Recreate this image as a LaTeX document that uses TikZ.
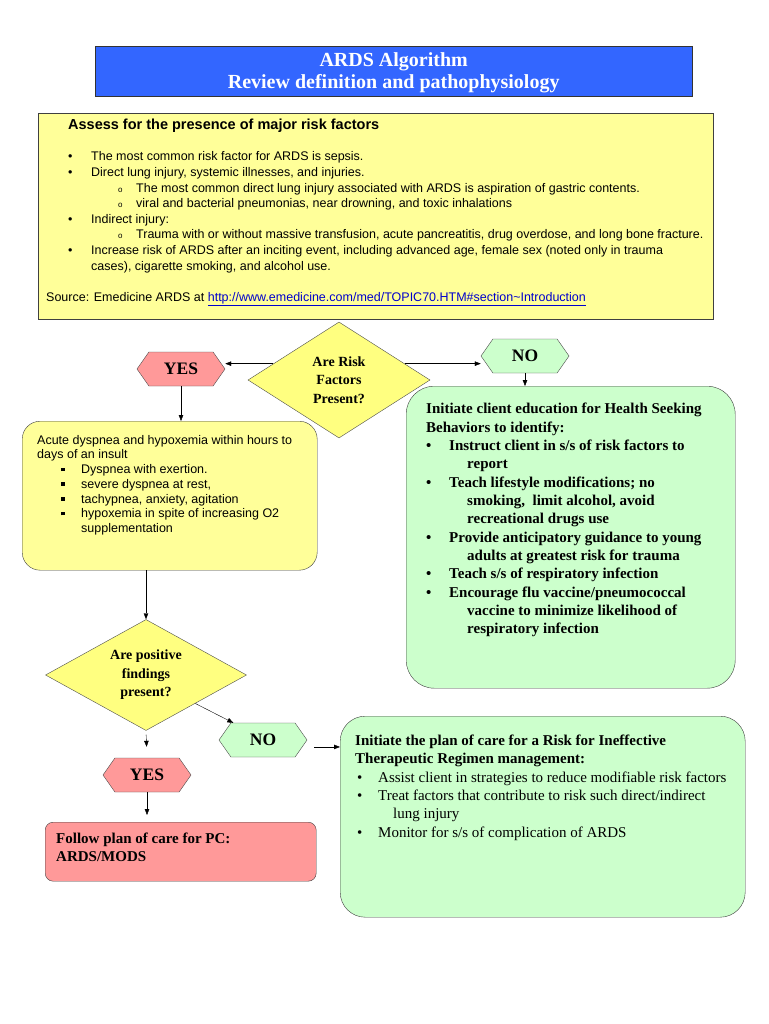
\documentclass[tikz,border=0pt]{standalone}
\usepackage{fontspec}
\setmainfont{Liberation Serif}
\setsansfont{Liberation Sans}
\usetikzlibrary{arrows.meta,shapes.geometric,shapes.symbols}

\definecolor{titleblue}{RGB}{51,102,255}
\definecolor{paleyellow}{RGB}{255,255,153}
\definecolor{askyellow}{RGB}{255,255,128}
\definecolor{yespink}{RGB}{255,153,153}
\definecolor{nogreen}{RGB}{204,255,204}
\definecolor{linkblue}{RGB}{0,0,204}

\newcommand{\bul}[1]{\makebox[#1][l]{\textbullet}}
\newcommand{\circitem}{\makebox[18pt][l]{\fontsize{8}{8}\selectfont o}}
\newcommand{\sqitem}{\makebox[20pt][l]{\rule[2.5pt]{3.5pt}{3.5pt}}}

\begin{document}
\begin{tikzpicture}
        [
            x = 1pt, y = -1pt,
            > = {Triangle[length=6pt,width=4.5pt]},
            panel/.style = {draw=black!75, anchor=north west, inner sep=0pt},
            decision/.style = {
                diamond, aspect=1.6, draw=black!70, fill=askyellow, inner sep=0pt,
                align=center, font=\fontsize{14}{18.5}\selectfont\bfseries},
            answer/.style = {
                signal, signal to=west and east, signal pointer angle=110,
                draw=black!70, minimum width=88pt, minimum height=34pt,
                inner sep=0pt, font=\fontsize{17.5}{17.5}\selectfont\bfseries}
        ]
        \useasboundingbox [fill=white] (0,0) rectangle (768,1024);

        % title banner
        \node [panel, draw=black!80, fill=titleblue, text=white] (title) at (95,46)
            {\parbox[c][50pt][t]{597pt}{\centering\fontsize{20}{22}\selectfont\bfseries
            \vspace*{6pt}ARDS Algorithm\\Review definition and pathophysiology}};

        % risk factors
        \node [panel, fill=paleyellow, inner xsep=8pt, inner ysep=6pt] (risk) at (38,113)
            {\parbox[c][194pt][t]{659pt}{\sffamily\fontsize{12.5}{15.6}\selectfont\raggedright
            \hspace*{22pt}{\fontsize{14.5}{15.6}\selectfont\bfseries Assess for the presence of major risk factors}\\[15.6pt]
            \hspace*{22pt}\bul{23pt}The most common risk factor for ARDS is sepsis.\\
            \hspace*{22pt}\bul{23pt}Direct lung injury, systemic illnesses, and injuries.\\
            \hspace*{72pt}\circitem The most common direct lung injury associated with ARDS is aspiration of gastric contents.\\
            \hspace*{72pt}\circitem viral and bacterial pneumonias, near drowning, and toxic inhalations\\
            \hspace*{22pt}\bul{23pt}Indirect injury:\\
            \hspace*{72pt}\circitem Trauma with or without massive transfusion, acute pancreatitis, drug overdose, and long bone fracture.\\
            \hspace*{22pt}\bul{23pt}Increase risk of ARDS after an inciting event, including advanced age, female sex (noted only in trauma\\
            \hspace*{45pt}cases), cigarette smoking, and alcohol use.\\[15.6pt]
            Source: Emedicine ARDS at \textcolor{linkblue}{\underline{http://www.emedicine.com/med/TOPIC70.HTM\#section\textasciitilde Introduction}}}};

        % first decision
        \node [decision, minimum width=182pt, minimum height=116pt] (dia1) at (339,380)
            {Are Risk\\Factors\\Present?};
        \node [answer, fill=yespink] (yes1) at (181,369) {YES};
        \node [answer, fill=nogreen] (no1) at (525,356) {NO};

        % education
        \node [panel, fill=nogreen, rounded corners=28pt, inner xsep=20pt, inner ysep=17pt] (edu) at (406,386)
            {\parbox[c][268pt][t]{289pt}{\fontsize{15}{18.35}\selectfont\bfseries\raggedright
            Initiate client education for Health Seeking\\
            Behaviors to identify:\\
            \bul{23pt}Instruct client in s/s of risk factors to\\
            \hspace*{41pt}report\\
            \bul{23pt}Teach lifestyle modifications; no\\
            \hspace*{41pt}smoking,\ \ limit alcohol, avoid\\
            \hspace*{41pt}recreational drugs use\\
            \bul{23pt}Provide anticipatory guidance to young\\
            \hspace*{41pt}adults at greatest risk for trauma\\
            \bul{23pt}Teach s/s of respiratory infection\\
            \bul{23pt}Encourage flu vaccine/pneumococcal\\
            \hspace*{41pt}vaccine to minimize likelihood of\\
            \hspace*{41pt}respiratory infection}};

        % signs and symptoms
        \node [panel, fill=paleyellow, rounded corners=18pt, inner xsep=15pt, inner ysep=14pt] (signs) at (22,421)
            {\parbox[c][121pt][t]{265pt}{\sffamily\fontsize{12.5}{14.7}\selectfont\raggedright
            Acute dyspnea and hypoxemia within hours to\\
            days of an insult\\
            \hspace*{24pt}\sqitem Dyspnea with exertion.\\
            \hspace*{24pt}\sqitem severe dyspnea at rest,\\
            \hspace*{24pt}\sqitem tachypnea, anxiety, agitation\\
            \hspace*{24pt}\sqitem hypoxemia in spite of increasing O2\\
            \hspace*{44pt}supplementation}};

        % second decision
        \node [decision, minimum width=201pt, minimum height=111pt] (dia2) at (146,675)
            {Are positive\\findings\\present?};
        \node [answer, fill=nogreen] (no2) at (263,740) {NO};
        \node [answer, fill=yespink] (yes2) at (147,775) {YES};

        % plan of care
        \node [panel, fill=yespink, rounded corners=8pt, inner xsep=11pt, inner ysep=10.5pt] (care) at (45,822)
            {\parbox[c][38pt][t]{249pt}{\fontsize{15}{18}\selectfont\bfseries
            Follow plan of care for PC:\\ARDS/MODS}};

        % regimen management
        \node [panel, fill=nogreen, rounded corners=25pt, inner xsep=15pt, inner ysep=18.5pt] (regimen) at (340,716)
            {\parbox[c][164pt][t]{375pt}{\fontsize{15}{18.4}\selectfont\raggedright
            \textbf{Initiate the plan of care for a Risk for Ineffective}\\
            \textbf{Therapeutic Regimen management:}\\
            \hspace*{2pt}\bul{21pt}Assist client in strategies to reduce modifiable risk factors\\
            \hspace*{2pt}\bul{21pt}Treat factors that contribute to risk such direct/indirect\\
            \hspace*{38pt}lung injury\\
            \hspace*{2pt}\bul{21pt}Monitor for s/s of complication of ARDS}};

        \draw [->] (dia1.166) -- (dia1.166 -| yes1.east);
        \draw [->] (dia1.14) -- (dia1.14 -| no1.west);
        \draw [->] (no1.south) -- (no1.south |- edu.north);
        \draw [->] (yes1.south) -- (yes1.south |- signs.north);
        \draw [->] (signs.south -| dia2.north) -- (dia2.north);
        \draw [->] (dia2.-30) -- (no2.150);
        \draw [->, shorten <=4pt, shorten >=11pt] (dia2.south) -- (yes2.north);
        \draw [->, shorten >=7pt] (yes2.south) -- (yes2.south |- care.north);
        \draw [->, shorten <=12pt] (no2.-10) -- (no2.-10 -| regimen.west);
    \end{tikzpicture}
\end{document}
